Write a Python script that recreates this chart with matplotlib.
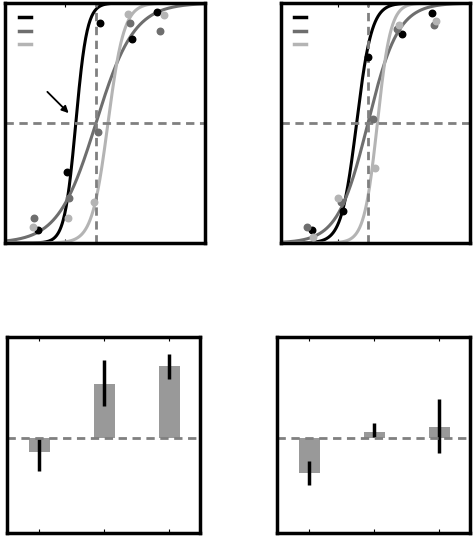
import matplotlib
matplotlib.use("Agg")
import matplotlib.pyplot as plt
import numpy as np

COLORS = ["#000000", "#6e6e6e", "#b4b4b4"]

# top panels: observed points (x, proportion) per condition
L_X = [[0.167, 0.308, 0.475, 0.636, 0.758],
       [0.146, 0.318, 0.465, 0.626, 0.773],
       [0.141, 0.313, 0.444, 0.616, 0.793]]
L_Y = [[0.054, 0.296, 0.917, 0.850, 0.963],
       [0.104, 0.188, 0.463, 0.917, 0.883],
       [0.067, 0.104, 0.171, 0.954, 0.950]]
L_MU = [0.354, 0.455, 0.515]
L_S = [0.028, 0.095, 0.040]

R_X = [[0.164, 0.328, 0.460, 0.640, 0.799],
       [0.138, 0.317, 0.487, 0.614, 0.810],
       [0.169, 0.302, 0.497, 0.624, 0.820]]
R_Y = [[0.054, 0.133, 0.775, 0.871, 0.958],
       [0.067, 0.171, 0.517, 0.892, 0.908],
       [0.025, 0.188, 0.312, 0.908, 0.925]]
R_MU = [0.400, 0.460, 0.510]
R_S = [0.040, 0.080, 0.035]

# bottom panels: bar values and error bars
BAR_L = [-0.42, 1.63, 2.18]
BAR_L_C = [-0.48, 1.665, 2.17]
BAR_L_E = [0.50, 0.70, 0.38]
BAR_R = [-1.03, 0.19, 0.35]
BAR_R_C = [-1.04, 0.26, 0.36]
BAR_R_E = [0.36, 0.21, 0.81]

W, H = 474, 537
fig = plt.figure(figsize=(W / 100, H / 100), dpi=100)


def box(x0, y0, x1, y1):
    return fig.add_axes([x0 / W, 1 - y1 / H, (x1 - x0) / W, (y1 - y0) / H])


def style(ax):
    for s in ax.spines.values():
        s.set_linewidth(2.5)
    ax.tick_params(direction="in", length=3, labelbottom=False, labelleft=False,
                   top=True, right=True)


def top_panel(ax, xs, ys, mus, ss, vline):
    xx = np.linspace(0, 1, 400)
    for x, y, mu, s, c in zip(xs, ys, mus, ss, COLORS):
        ax.plot(xx, 1 / (1 + np.exp(-(xx - mu) / s)), color=c, lw=2.2)
        ax.scatter(x, y, color=c, s=22, zorder=3)
    ax.axhline(0.5, color="#808080", ls="--", lw=2, dashes=(3, 2))
    ax.axvline(vline, color="#808080", ls="--", lw=2, dashes=(3, 2))
    for i, c in enumerate(COLORS):
        ax.plot([0.07, 0.13], [0.94 - 0.055 * i] * 2, color=c, lw=2.5)
    ax.set_xlim(0, 1)
    ax.set_ylim(0, 1)
    ax.set_xticks([0.3, vline])
    ax.set_yticks([])
    style(ax)


def bar_panel(ax, vals, cent, err):
    x = np.arange(3) + 0.5
    ax.bar(x, vals, 0.33, color="#999999")
    ax.errorbar(x, cent, yerr=err, fmt="none", ecolor="black", elinewidth=2.5)
    ax.axhline(0, color="#808080", ls="--", lw=2, dashes=(3, 2))
    ax.set_xlim(0, 2.97)
    ax.set_ylim(-2.85, 3.05)
    ax.set_xticks(x)
    ax.set_yticks([])
    style(ax)


ax1 = box(5, 3, 205, 243)
top_panel(ax1, L_X, L_Y, L_MU, L_S, 0.455)
ax1.annotate("", xy=(0.328, 0.533), xytext=(0.202, 0.638),
             arrowprops=dict(arrowstyle="-|>", color="black", lw=1.3))

ax2 = box(281, 3, 470, 243)
top_panel(ax2, R_X, R_Y, R_MU, R_S, 0.46)

ax3 = box(7, 337, 200, 533)
bar_panel(ax3, BAR_L, BAR_L_C, BAR_L_E)

ax4 = box(277, 337, 470, 533)
bar_panel(ax4, BAR_R, BAR_R_C, BAR_R_E)

fig.savefig("out.png", dpi=100)
